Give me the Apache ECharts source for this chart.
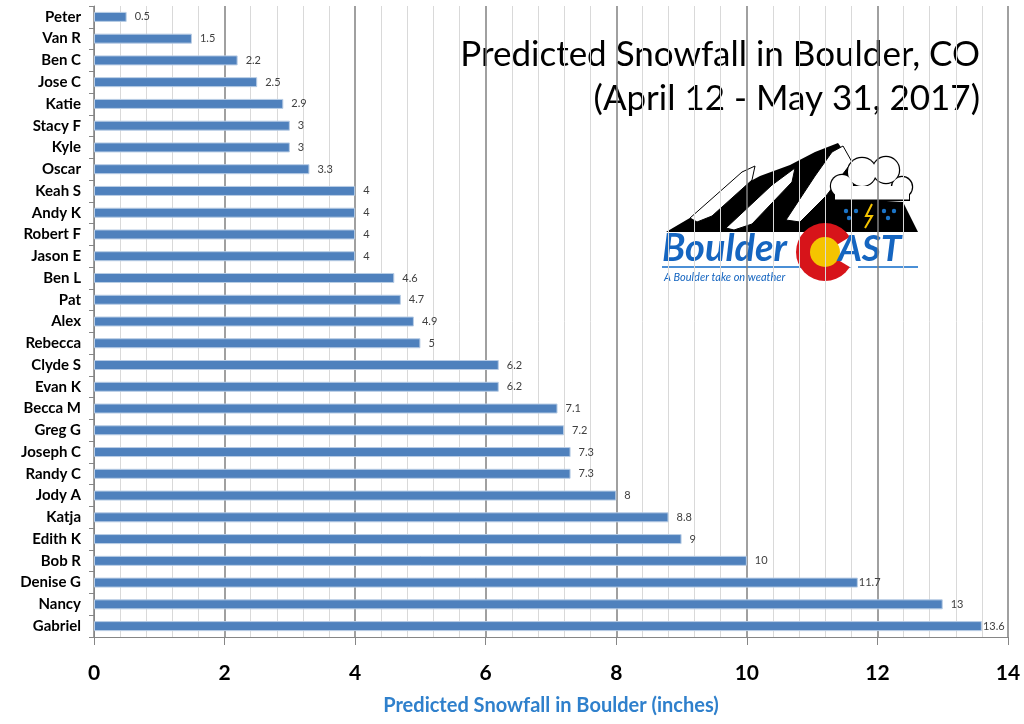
<!DOCTYPE html>
<html><head><meta charset="utf-8">
<script src="https://cdn.jsdelivr.net/npm/echarts@6/dist/echarts.min.js"></script>
<style>html,body{margin:0;padding:0;background:#fff}#c{width:1024px;height:724px}</style>
</head><body><div id="c"></div>
<script>
const names = ["Peter","Van R","Ben C","Jose C","Katie","Stacy F","Kyle","Oscar","Keah S","Andy K","Robert F","Jason E","Ben L","Pat","Alex","Rebecca","Clyde S","Evan K","Becca M","Greg G","Joseph C","Randy C","Jody A","Katja","Edith K","Bob R","Denise G","Nancy","Gabriel"];
const snowfall = [0.5,1.5,2.2,2.5,2.9,3,3,3.3,4,4,4,4,4.6,4.7,4.9,5,6.2,6.2,7.1,7.2,7.3,7.3,8,8.8,9,10,11.7,13,13.6];
const tightLabels = ["Denise G","Gabriel"];
const xTicks = [0,2,4,6,8,10,12,14];
const titleLines = ["Predicted Snowfall in Boulder, CO","(April 12 - May 31, 2017)"];
const axisTitle = "Predicted Snowfall in Boulder (inches)";

const FONT = "Lato, 'Open Sans', sans-serif";
const chart = echarts.init(document.getElementById('c'));
const seriesData = snowfall.map((v,i)=>({
  value: v,
  label: { distance: tightLabels.includes(names[i]) ? 1 : 8 }
}));

const cloudCircles = [[842,186,11],[862,172,14],[886,170,13],[902,187,10]];
const logo = [
  {type:'polygon', shape:{points:[[666,232],[700,212],[730,192],[760,176],[790,165],[815,152],[838,143],[850,160],[870,200],[903,202],[918,232]]}, style:{fill:'#000'}},
  {type:'polygon', shape:{points:[[690,218],[742,172],[755,166],[752,180],[712,216],[697,222]]}, style:{fill:'#fff',stroke:'#000',lineWidth:1}},
  {type:'polygon', shape:{points:[[726,228],[772,185],[795,168],[792,182],[752,224],[734,230]]}, style:{fill:'#fff',stroke:'#000',lineWidth:1}},
  {type:'polygon', shape:{points:[[786,220],[815,176],[832,152],[843,146],[852,162],[826,196],[800,222]]}, style:{fill:'#fff',stroke:'#000',lineWidth:1}}
];
cloudCircles.forEach(c=>logo.push({type:'circle', shape:{cx:c[0],cy:c[1],r:c[2]+1.2}, style:{fill:'#000'}}));
logo.push({type:'rect', shape:{x:834,y:188,width:76,height:13}, style:{fill:'#000'}});
cloudCircles.forEach(c=>logo.push({type:'circle', shape:{cx:c[0],cy:c[1],r:c[2]}, style:{fill:'#fff'}}));
logo.push({type:'rect', shape:{x:835,y:186,width:74,height:13.5}, style:{fill:'#fff'}});
logo.push(
  {type:'polyline', shape:{points:[[872,204],[866,216],[872,216],[865,228]]}, style:{stroke:'#f5c400',lineWidth:2,fill:null}},
  {type:'circle', shape:{cx:846,cy:211,r:2.2}, style:{fill:'#1c75c8'}},
  {type:'circle', shape:{cx:856,cy:211,r:2.2}, style:{fill:'#1c75c8'}},
  {type:'circle', shape:{cx:849,cy:218,r:2.2}, style:{fill:'#1c75c8'}},
  {type:'circle', shape:{cx:884,cy:211,r:2.2}, style:{fill:'#1c75c8'}},
  {type:'circle', shape:{cx:894,cy:211,r:2.2}, style:{fill:'#1c75c8'}},
  {type:'circle', shape:{cx:888,cy:218,r:2.2}, style:{fill:'#1c75c8'}},
  {type:'rect', shape:{x:662,y:266,width:256,height:2}, style:{fill:'#4a8fd6'}},
  {type:'text', x:662, y:268, style:{text:'Boulder', font:"italic bold 38px "+FONT, fill:'#1565c0', textVerticalAlign:'bottom'}},
  {type:'circle', shape:{cx:825,cy:252,r:29}, style:{fill:'#d7141a'}},
  {type:'polygon', shape:{points:[[825,252],[858,232],[858,272]]}, style:{fill:'#fff'}},
  {type:'circle', shape:{cx:825,cy:252,r:15}, style:{fill:'#f5c400'}},
  {type:'text', x:838, y:268, style:{text:'AST', font:"italic bold 37px "+FONT, fill:'#1565c0', textVerticalAlign:'bottom'}},
  {type:'text', x:664, y:277, style:{text:'A Boulder take on weather', font:"italic 11px "+FONT, fill:'#1565c0', textVerticalAlign:'middle'}}
);

chart.setOption({
  animation:false,
  backgroundColor:'#fff',
  grid:{left:94,right:16,top:6,bottom:87,containLabel:false},
  xAxis:{
    type:'value', min:xTicks[0], max:xTicks[xTicks.length-1], interval:2,
    name:axisTitle, nameLocation:'middle', nameGap:59,
    nameTextStyle:{fontFamily:FONT,fontWeight:'bold',fontSize:20,color:'#2f80cc'},
    axisLine:{show:true,lineStyle:{color:'#868686',width:1}},
    axisTick:{show:true,length:8,lineStyle:{color:'#868686'}},
    axisLabel:{fontFamily:FONT,fontWeight:'bold',fontSize:21,color:'#000',margin:26},
    splitLine:{show:true,lineStyle:{color:'#808080',width:1.5}},
    minorTick:{show:false,splitNumber:5},
    minorSplitLine:{show:true,lineStyle:{color:'#d9d9d9',width:1}}
  },
  yAxis:{
    type:'category', inverse:true, data:names,
    axisLine:{show:true,lineStyle:{color:'#868686'}},
    axisTick:{show:true,length:5,lineStyle:{color:'#868686'}},
    axisLabel:{fontFamily:FONT,fontWeight:'bold',fontSize:15,color:'#000',margin:13}
  },
  series:[{
    type:'bar', data:seriesData, barWidth:10,
    itemStyle:{color:'#4f81bd',borderColor:'#b9cde5',borderWidth:1},
    label:{show:true,position:'right',fontFamily:FONT,fontSize:11,color:'#404040'}
  }],
  graphic:[
    {type:'text', right:44, top:37, style:{text:titleLines[0], font:"35px "+FONT, fill:'#000', textAlign:'right'}},
    {type:'text', right:44, top:81, style:{text:titleLines[1], font:"35px "+FONT, fill:'#000', textAlign:'right'}},
    {type:'group', children:logo}
  ]
});
</script></body></html>
